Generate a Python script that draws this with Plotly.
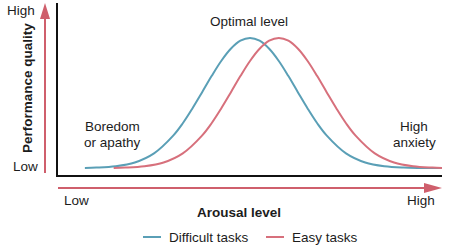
import plotly.graph_objects as go

# ---- data (arousal level 0-100, performance quality 0-100) ----
difficult_x = [7, 10, 15, 20, 25, 30, 32.5, 35, 37.5, 40, 42.5, 45, 47.5, 50, 52.5, 55, 57.5, 60,
               62.5, 65, 67.5, 70, 75, 80, 85, 90, 95, 100]
difficult_y = [4.1, 4.3, 5.1, 7.3, 12.6, 22.9, 30.1, 38.7, 48.0, 57.5, 66.3, 73.4, 78.1, 79.7, 78.1, 73.4,
               66.3, 57.5, 48.0, 38.7, 30.1, 22.9, 12.6, 7.3, 5.1, 4.3, 4.1, 4.0]
easy_x = [14.5, 17.5, 22.5, 27.5, 32.5, 37.5, 40, 42.5, 45, 47.5, 50, 52.5, 55, 57.5, 60, 62.5, 65, 67.5,
          70, 72.5, 75, 77.5, 82.5, 87.5, 92.5, 97.5, 100]
easy_y = [4.1, 4.3, 5.1, 7.3, 12.6, 22.9, 30.1, 38.7, 48.0, 57.5, 66.3, 73.4, 78.1, 79.7, 78.1, 73.4,
          66.3, 57.5, 48.0, 38.7, 30.1, 22.9, 12.6, 7.3, 5.1, 4.3, 4.1]
series_names = ["Difficult tasks", "Easy tasks"]
y_tick_labels = ["Low", "High"]
x_tick_labels = ["Low", "High"]
y_title = "Performance quality"
x_title = "Arousal level"
region_labels = [["Boredom", "or apathy"], ["Optimal level"], ["High", "anxiety"]]

BLUE = "#5A9FB6"
RED = "#D7707C"
ARROW = "#CF5F6C"
TXT = "#1c1c1c"
FONT = "Liberation Sans, Arial, sans-serif"

W, H = 474, 247
L, R, T, B = 58, 32, 3, 72
PW, PH = W - L - R, H - T - B


def px(x):
    return (x - L) / PW


def py(y):
    return (H - B - y) / PH


fig = go.Figure()
fig.add_trace(go.Scatter(x=difficult_x, y=difficult_y, mode="lines", name=series_names[0],
                         line=dict(color=BLUE, width=2, shape="spline", smoothing=1.0), showlegend=False))
fig.add_trace(go.Scatter(x=easy_x, y=easy_y, mode="lines", name=series_names[1],
                         line=dict(color=RED, width=2, shape="spline", smoothing=1.0), showlegend=False))

shapes = []
# red arrows
shapes.append(dict(type="line", xref="paper", yref="paper", x0=px(45), x1=px(45), y0=py(173), y1=py(16),
                   line=dict(color=ARROW, width=2)))
shapes.append(dict(type="path", xref="paper", yref="paper",
                   path=f"M {px(45)} {py(3)} L {px(40)} {py(19)} L {px(50)} {py(19)} Z",
                   fillcolor=ARROW, line=dict(color=ARROW, width=0)))
shapes.append(dict(type="line", xref="paper", yref="paper", x0=px(58), x1=px(427), y0=py(188), y1=py(188),
                   line=dict(color=ARROW, width=2)))
shapes.append(dict(type="path", xref="paper", yref="paper",
                   path=f"M {px(442)} {py(188)} L {px(424)} {py(183)} L {px(424)} {py(193)} Z",
                   fillcolor=ARROW, line=dict(color=ARROW, width=0)))
# legend swatches
shapes.append(dict(type="line", xref="paper", yref="paper", x0=px(143), x1=px(161), y0=py(237), y1=py(237),
                   line=dict(color=BLUE, width=2)))
shapes.append(dict(type="line", xref="paper", yref="paper", x0=px(266), x1=px(284), y0=py(237), y1=py(237),
                   line=dict(color=RED, width=2)))

ann = []


def text(x, y, s, bold=False, xanchor="center", angle=0):
    ann.append(dict(x=px(x), y=py(y), xref="paper", yref="paper", text=f"<b>{s}</b>" if bold else s,
                    showarrow=False, xanchor=xanchor, yanchor="middle", textangle=angle,
                    font=dict(family=FONT, size=13.5, color=TXT)))


text(21, 11, y_tick_labels[1])
text(25, 166, y_tick_labels[0])
text(27, 88, y_title, bold=True, angle=-90)
text(76, 200, x_tick_labels[0])
text(421, 200, x_tick_labels[1])
text(239, 212, x_title, bold=True)
text(112, 127, region_labels[0][0])
text(112, 142, region_labels[0][1])
text(249, 22, region_labels[1][0])
text(414, 127, region_labels[2][0])
text(414, 142, region_labels[2][1])
text(167, 237, series_names[0], xanchor="left")
text(290, 237, series_names[1], xanchor="left")

fig.update_layout(
    width=W, height=H, margin=dict(l=L, r=R, t=T, b=B),
    paper_bgcolor="white", plot_bgcolor="white",
    shapes=shapes, annotations=ann, showlegend=False,
    xaxis=dict(range=[0, 100], showline=True, linecolor="#111", linewidth=1.5, showgrid=False,
               zeroline=False, showticklabels=False, ticks=""),
    yaxis=dict(range=[0, 100], showline=True, linecolor="#111", linewidth=1.5, showgrid=False,
               zeroline=False, showticklabels=False, ticks=""),
)
fig.write_html("out.html")
